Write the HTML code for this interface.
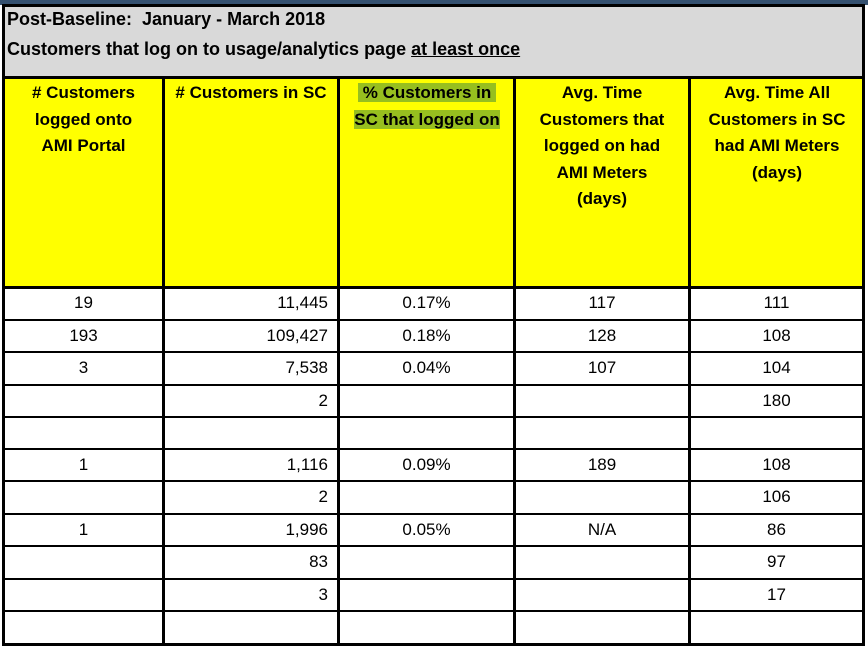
<!DOCTYPE html>
<html><head><meta charset="utf-8"><style>
body{margin:0;width:868px;height:650px;background:#fff;position:relative;overflow:hidden;font-family:"Liberation Sans",Arial,sans-serif;color:#000}
.a{position:absolute}
.h{background:#000}
.hd{position:absolute;top:80px;font-weight:bold;font-size:17px;line-height:26.5px;text-align:center}
.c{position:absolute;font-size:17px;line-height:32px;height:32px}
.g{background:#97bf1f}
</style></head><body>
<div class="a" style="left:0;top:0;width:868px;height:5px;background:#34506f"></div>
<div class="a" style="left:3px;top:5px;width:861px;height:72px;background:#d9d9d9"></div>
<div class="a" style="left:7px;top:4px;font-weight:bold;font-size:18px;line-height:30px">Post-Baseline:&nbsp; January - March 2018<br>Customers that log on to usage/analytics page <u>at least once</u></div>
<div class="a" style="left:3px;top:77px;width:861px;height:210px;background:#ffff00"></div>
<div class="hd" style="left:5px;width:157px">#&nbsp;Customers<br>logged onto<br>AMI Portal</div>
<div class="hd" style="left:165px;width:172px">#&nbsp;Customers in SC</div>
<div class="hd" style="left:340px;width:174px"><span class="g">&nbsp;% Customers in&nbsp;</span><br><span class="g">SC that logged on</span></div>
<div class="hd" style="left:516px;width:172px">Avg. Time<br>Customers that<br>logged on had<br>AMI Meters<br>(days)</div>
<div class="hd" style="left:691px;width:172px">Avg. Time All<br>Customers in SC<br>had AMI Meters<br>(days)</div>
<div id="grid"></div>
<div id="cells"></div>
<script>
const col1=["19","193","3","","","1","","1","","",""];
const col2=["11,445","109,427","7,538","2","","1,116","2","1,996","83","3",""];
const col3=["0.17%","0.18%","0.04%","","","0.09%","","0.05%","","",""];
const col4=["117","128","107","","","189","","N/A","","",""];
const col5=["111","108","104","180","","108","106","86","97","17",""];
const vx=[2,162,337,513,688,862];
const hy=[4,76,286,319,351,384,416,448,480,513,545,578,610,643];
const g=document.getElementById('grid');
vx.forEach(x=>{const d=document.createElement('div');d.className='a h';


const top=x===2||x===862?4:76;d.style.cssText=`left:${x}px;top:${top}px;width:3px;height:${646-top}px`;g.appendChild(d);});
hy.forEach((y,i)=>{const d=document.createElement('div');d.className='a h';


const th=(i===2||i===0||i===13)?3:2;d.style.cssText=`left:2px;top:${y}px;width:863px;height:${th+(i===1?1:0)}px`;g.appendChild(d);});
const cols=[col1,col2,col3,col4,col5];const names=['logged-on','customers-in-sc','pct-logged','avg-time-logged','avg-time-all'];
const c=document.getElementById('cells');
cols.forEach((arr,ci)=>{arr.forEach((v,ri)=>{if(!v)return;const d=document.createElement('div');d.className='c';


const l=vx[ci]+3,w=vx[ci+1]-vx[ci]-3;const t=hy[ri+2]+1;
d.style.left=l+'px';d.style.width=(ci===1?w-9:w)+'px';d.style.top=t+'px';d.style.textAlign=ci===1?'right':'center';d.textContent=v;c.appendChild(d);});});
</script>
</body></html>
